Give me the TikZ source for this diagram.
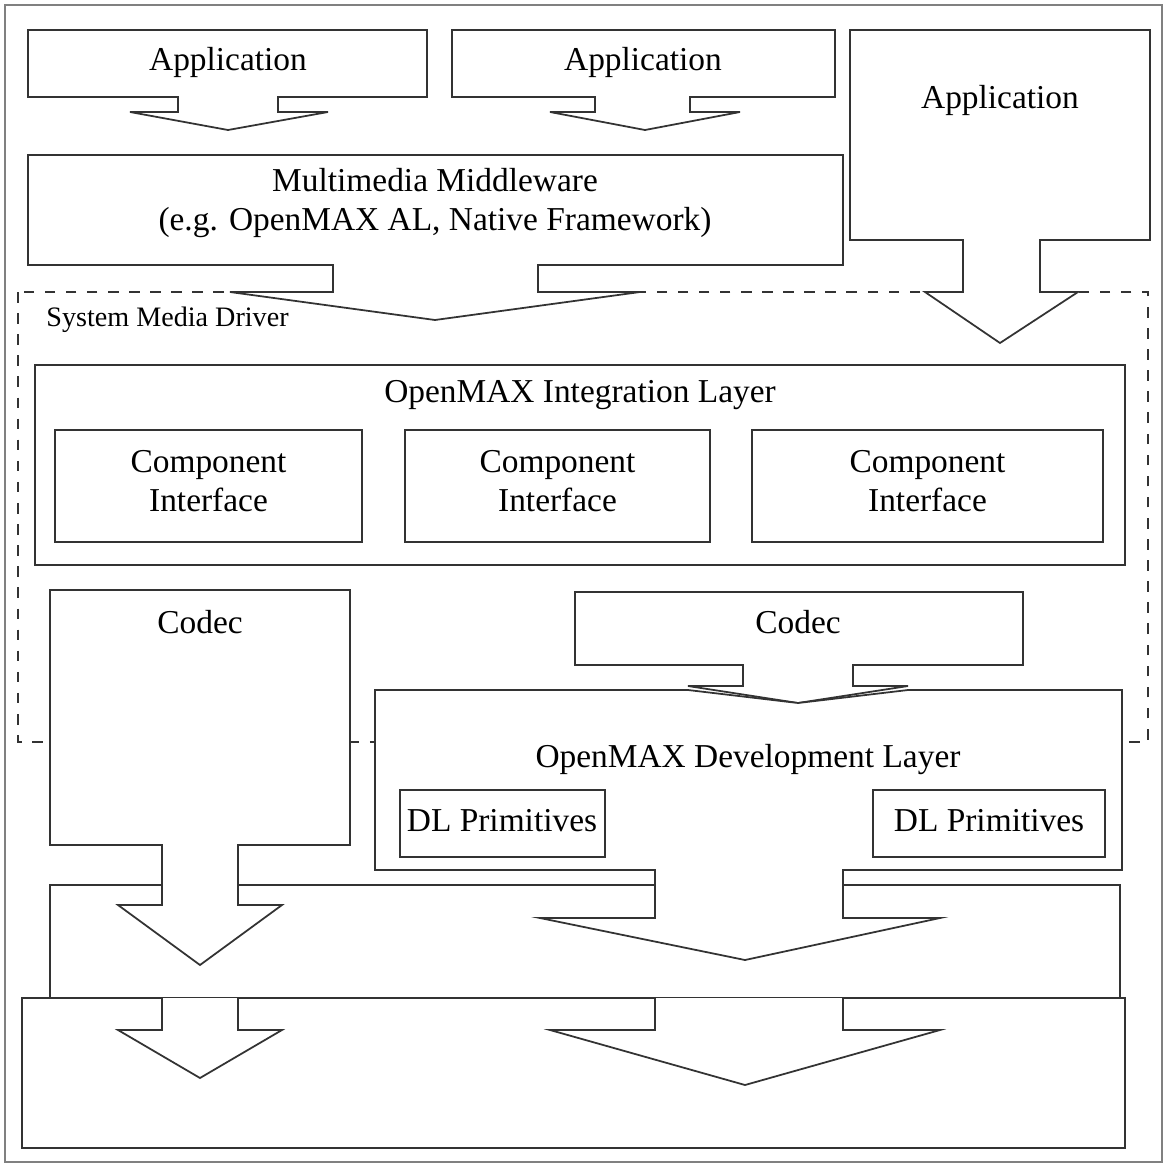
\documentclass[tikz,border=0pt]{standalone}
\usepackage{fontspec}
\setmainfont{Liberation Serif}
\begin{document}
\begin{tikzpicture}[x=0.01cm,y=-0.01cm,
    outline/.style={draw=black!80, line width=0.5pt, fill=white, line join=miter},
    lbl/.style={font=\fontsize{9.5}{11.2}\selectfont}]
    \useasboundingbox (0,0) rectangle (1166,1166);
    \draw[black!50] (5,5) rectangle (1162,1162);
    % bottom layers
    \draw[outline] (50,885) rectangle (1120,998);
    \draw[outline] (22,998) rectangle (1125,1148);
    % system media driver
    \draw[black!80, dashed] (18,292) rectangle (1148,742);
    \node[anchor=west, font=\fontsize{8}{9}\selectfont] (smd) at (34,320) {System Media Driver};
    % applications
    \draw[outline] (28,30) -- (427,30) -- (427,97) -- (278,97) -- (278,112) -- (328,112) -- (228,130)
        -- (130,112) -- (178,112) -- (178,97) -- (28,97) -- cycle;
    \node[lbl] (app1) at (228,62) {Application};
    \draw[outline] (452,30) -- (835,30) -- (835,97) -- (690,97) -- (690,112) -- (740,112) -- (645,130)
        -- (550,112) -- (595,112) -- (595,97) -- (452,97) -- cycle;
    \node[lbl] (app2) at (643,62) {Application};
    \draw[outline] (850,30) -- (1150,30) -- (1150,240) -- (1040,240) -- (1040,292) -- (1078,292) -- (1000,343)
        -- (925,292) -- (963,292) -- (963,240) -- (850,240) -- cycle;
    \node[lbl] (app3) at (1000,100) {Application};
    % middleware
    \draw[outline] (28,155) -- (843,155) -- (843,265) -- (538,265) -- (538,292) -- (640,292) -- (435,320)
        -- (230,292) -- (333,292) -- (333,265) -- (28,265) -- cycle;
    \node[lbl, align=center] (mw) at (435,203) {Multimedia Middleware\\(e.g. OpenMAX AL, Native Framework)};
    % integration layer
    \draw[outline] (35,365) rectangle (1125,565);
    \node[lbl] (il) at (580,395) {OpenMAX Integration Layer};
    \foreach \xa/\xb/\n in {55/362/1, 405/710/2, 752/1103/3}{
        \draw[outline] (\xa,430) rectangle (\xb,542);
        \node[lbl, align=center] (ci\n) at ({(\xa+\xb)/2},481) {Component\\Interface};
    }
    % codecs
    \draw[outline] (50,590) -- (350,590) -- (350,845) -- (238,845) -- (238,905) -- (282,905) -- (200,965)
        -- (118,905) -- (162,905) -- (162,845) -- (50,845) -- cycle;
    \node[lbl] (codec1) at (200,622) {Codec};
    \draw[outline] (575,592) -- (1023,592) -- (1023,665) -- (853,665) -- (853,686) -- (908,686) -- (798,703)
        -- (688,686) -- (743,686) -- (743,665) -- (575,665) -- cycle;
    \node[lbl] (codec2) at (798,622) {Codec};
    % development layer
    \draw[outline] (375,690) -- (688,690) -- (798,703) -- (908,690) -- (1122,690) -- (1122,870)
        -- (843,870) -- (843,918) -- (940,918) -- (745,960) -- (540,918) -- (655,918) -- (655,870)
        -- (375,870) -- cycle;
    \node[lbl] (dl) at (748,760) {OpenMAX Development Layer};
    \draw[outline] (400,790) rectangle (605,857);
    \node[lbl] (dlp1) at (502,821) {DL Primitives};
    \draw[outline] (873,790) rectangle (1105,857);
    \node[lbl] (dlp2) at (989,821) {DL Primitives};
    % arrows into lowest layer
    \draw[outline] (162,998) -- (162,1030) -- (118,1030) -- (200,1078) -- (282,1030) -- (238,1030) -- (238,998);
    \draw[outline] (655,998) -- (655,1030) -- (550,1030) -- (745,1085) -- (940,1030) -- (843,1030) -- (843,998);
\end{tikzpicture}
\end{document}
